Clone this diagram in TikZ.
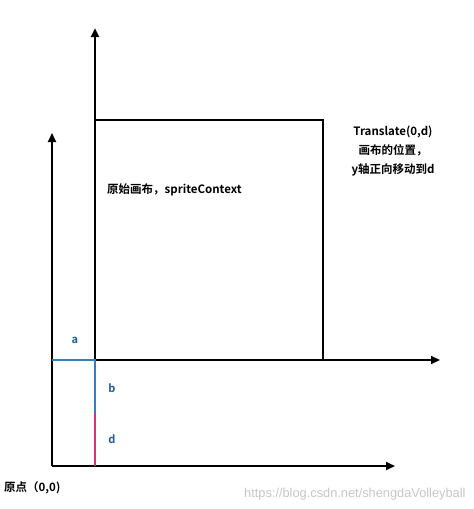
\documentclass[tikz,border=0pt]{standalone}
\usepackage{fontspec}
\setmainfont{Noto Sans CJK SC}[BoldFont={* Bold}]
\newfontfamily\urlfont{Liberation Sans}
\usetikzlibrary{arrows.meta}
\definecolor{lblblue}{HTML}{1F5C99}
\definecolor{segblue}{HTML}{2F7FC1}
\definecolor{segpink}{HTML}{D6337A}
\begin{document}
\begin{tikzpicture}[x=1pt,y=-1pt,
  axis/.style={line width=1.9pt,-{Triangle[length=9pt,width=8pt]}},
  edge/.style={line width=1.6pt},
  seglbl/.style={text=lblblue,font=\bfseries\fontsize{11}{13}\selectfont,inner sep=0pt},
  note/.style={font=\bfseries\fontsize{11.5}{19}\selectfont,inner sep=0pt,align=center},
]
\useasboundingbox[fill=white] (0,0) rectangle (474,509);
% outer (original) axes
\coordinate (O) at (52,466);
\coordinate (OX) at (395,466);
\coordinate (OY) at (52,133);
% translated axes
\coordinate (P) at (95,360);
\coordinate (PX) at (440,360);
\coordinate (PY) at (95,28);
\coordinate (Pb) at (95,413);
\coordinate (Pd) at (95,466);
\coordinate (Pa) at (52,360);
% canvas box corners
\coordinate (BTL) at (95,120);
\coordinate (BTR) at (323,120);
\coordinate (BBR) at (323,360);

\draw[axis] (O) -- (OX);
\draw[axis] (O) -- (OY);
\draw[edge] (BTL) -- (BTR) -- (BBR);
\draw[axis] (P) -- (PX);
\draw[axis,line width=2.4pt] (P) -- (PY);
\draw[segblue,line width=1.5pt] (Pa) -- (P) -- (Pb);
\draw[segpink,line width=1.5pt] (Pb) -- (Pd);

\node[seglbl] (la) at (75,340) {a};
\node[seglbl] (lb) at (112,388) {b};
\node[seglbl] (ld) at (112,439) {d};
\node[note,anchor=west] (canvas) at (107,190) {原始画布，spriteContext};
\node[note] (trans) at (393,151) {Translate(0,d)\\画布的位置，\\y轴正向移动到d};
\node[note,anchor=west] (origin) at (4,488) {原点（0,0)};
\node[anchor=west,inner sep=0pt,text=black!22,font=\urlfont\fontsize{12.8}{14}\selectfont] (url) at (244,494) {https://blog.csdn.net/shengdaVolleyball};
\end{tikzpicture}
\end{document}
